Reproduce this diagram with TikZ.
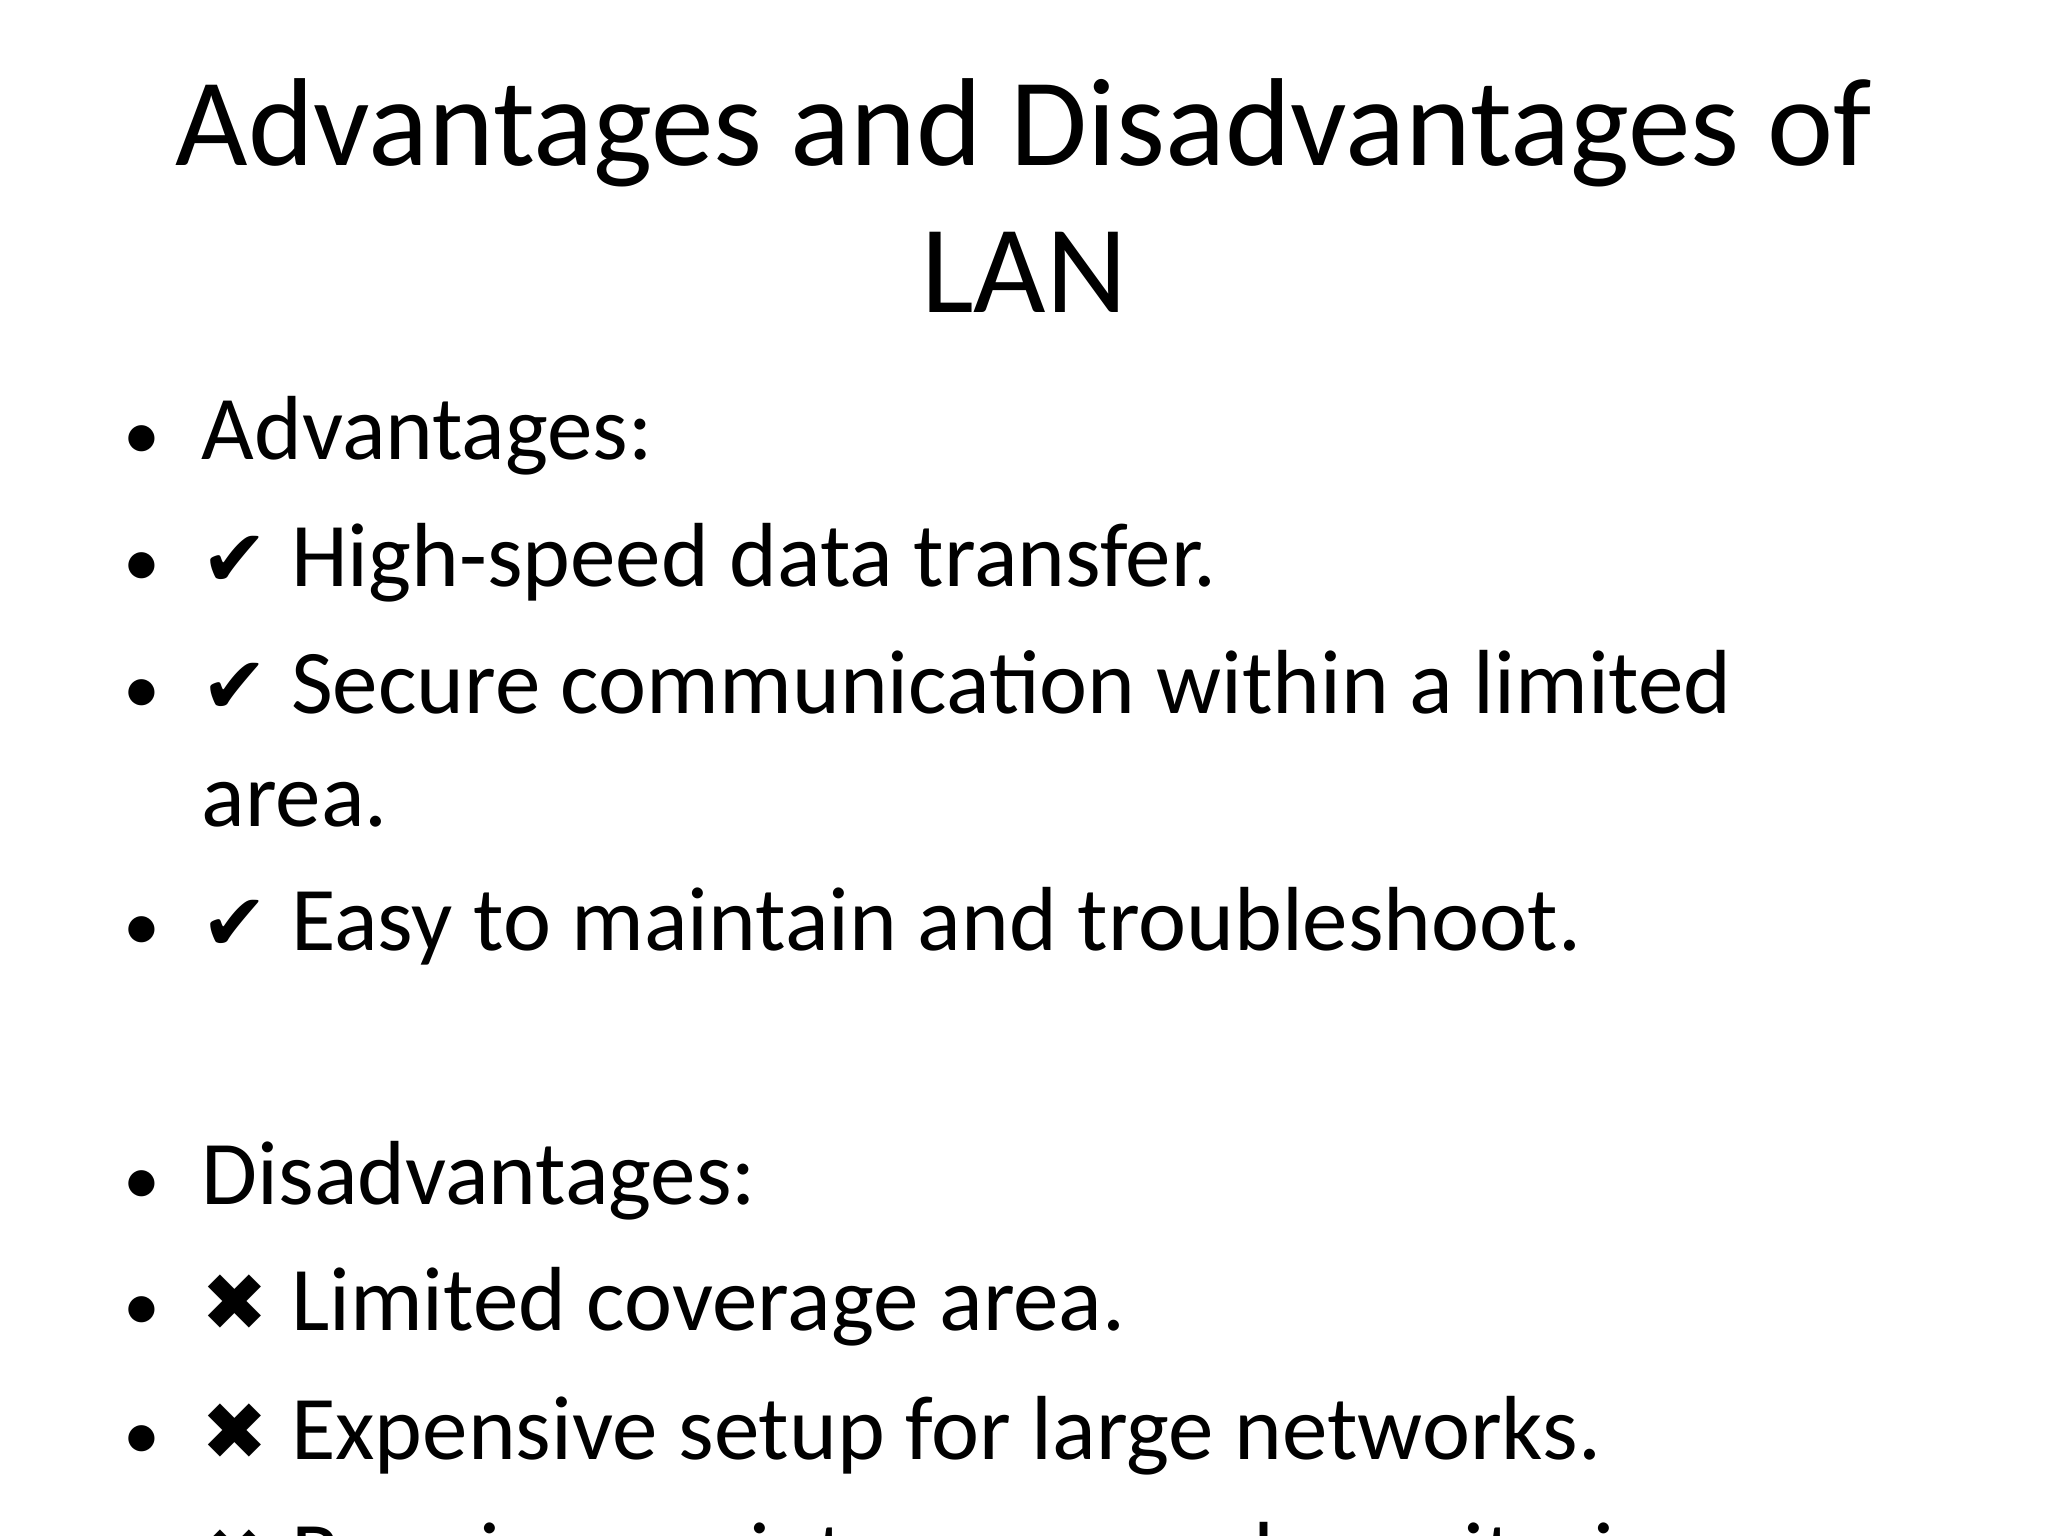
\documentclass[tikz,border=0pt]{standalone}
\usepackage{fontspec}
\setmainfont{Carlito}
\newfontfamily\symf{DejaVu Sans}
\newcommand{\ck}{{\symf\fontsize{28}{30}\selectfont ✔}\hspace{8pt}}
\newcommand{\xx}{{\symf\fontsize{28}{30}\selectfont ✖}\hspace{8pt}}
\begin{document}
\begin{tikzpicture}[x=1pt,y=-1pt,
  ttl/.style={anchor=base,font=\fontsize{44}{48}\selectfont,inner sep=0},
  itm/.style={anchor=base west,font=\fontsize{32}{39.5}\selectfont,inner sep=0,align=left},
  bul/.style={anchor=base,font=\fontsize{26}{30}\selectfont,inner sep=0}]
\clip (0,0) rectangle (720,540);
\fill[white] (0,0) rectangle (720,540);
\node[ttl] (t1) at (360,58.3) {Advantages and Disadvantages of};
\node[ttl] (t2) at (360,110) {LAN};
\node[bul] (b1) at (50,161.6) {•}; \node[itm] (i1) at (70.7,161.6) {Advantages:};
\node[bul] (b2) at (50,206.2) {•}; \node[itm] (i2) at (70.7,206.2) {\ck High-speed data transfer.};
\node[bul] (b3) at (50,250.7) {•}; \node[itm,anchor=north west] (i3) at (70.7,228.5) {\ck Secure communication within a limited\\area.};
\node[bul] (b4) at (50,334.3) {•}; \node[itm] (i4) at (70.7,334.3) {\ck Easy to maintain and troubleshoot.};
\node[bul] (b5) at (50,423.4) {•}; \node[itm] (i5) at (70.7,423.4) {Disadvantages:};
\node[bul] (b6) at (50,467.9) {•}; \node[itm] (i6) at (70.7,467.9) {\xx Limited coverage area.};
\node[bul] (b7) at (50,513) {•}; \node[itm] (i7) at (70.7,513) {\xx Expensive setup for large networks.};
\node[bul] (b8) at (50,557.5) {•}; \node[itm] (i8) at (70.7,557.5) {\xx Requires maintenance and monitoring.};
\end{tikzpicture}
\end{document}
